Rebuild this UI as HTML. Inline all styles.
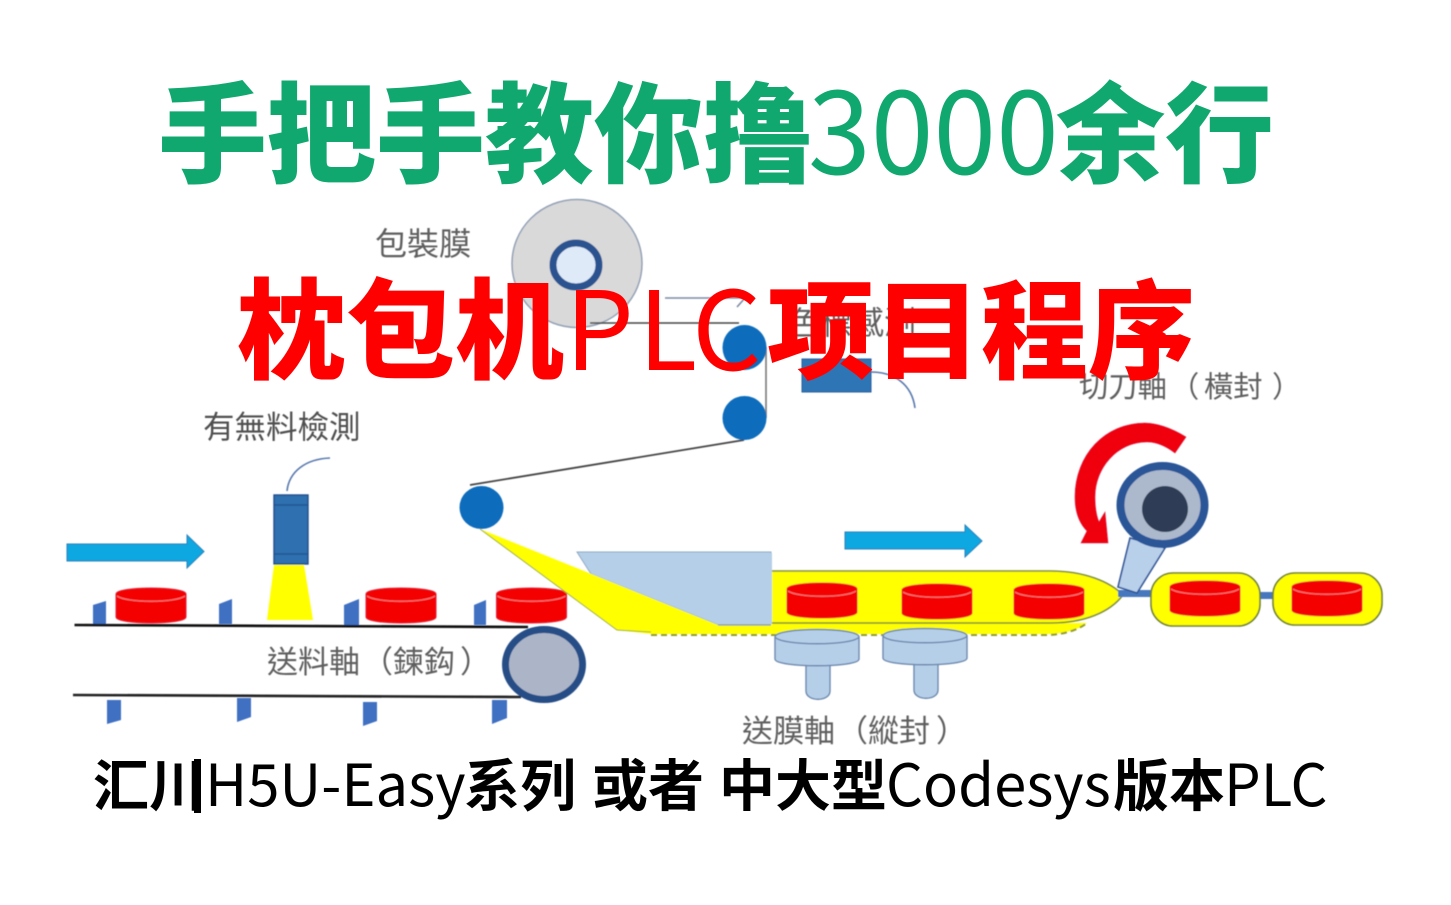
<!DOCTYPE html>
<html>
<head>
<meta charset="utf-8">
<style>
html,body{margin:0;padding:0;background:#fff;width:1451px;height:905px;overflow:hidden}
svg{display:block}
text{font-family:"Liberation Sans","Noto Sans CJK SC",sans-serif}
.cjk{font-family:"Noto Sans CJK SC","Liberation Sans",sans-serif}
.lab{font-family:"Noto Sans CJK TC","Liberation Sans",sans-serif;fill:#5f5f5f;font-weight:400}
.b{font-weight:900}
.m{font-weight:700}
.n{font-weight:400}
</style>
</head>
<body>
<svg width="1451" height="905" viewBox="0 0 1451 905" xmlns="http://www.w3.org/2000/svg">
<defs>
<filter id="soft" x="-2%" y="-2%" width="104%" height="104%"><feGaussianBlur stdDeviation="0.55"/></filter>
<g id="disc">
<path d="M0 6 C0 -2 70 -2 70 6 V29 C70 37 0 37 0 29 Z" fill="#f50000" stroke="#e02030" stroke-width="1"/>
<path d="M1 8 C10 15 60 15 69 8" fill="none" stroke="#f07878" stroke-width="1.2"/>
</g>
<g id="roll">
<path d="M31 30 V61 C31 72 55 72 55 61 V30 Z" fill="#b6cfe9" stroke="#6a87ad" stroke-width="1.4"/>
<path d="M0 7 C0 -3 84 -3 84 7 V29 C84 38 0 38 0 29 Z" fill="#b6cfe9" stroke="#6a87ad" stroke-width="1.4"/>
<path d="M0 7 C6 16 78 16 84 7" fill="none" stroke="#6a87ad" stroke-width="1.4"/>
</g>
</defs>

<g filter="url(#soft)">
<!-- film roll -->
<ellipse cx="577" cy="263.5" rx="65" ry="64" fill="#d9d9d9" stroke="#93a0b5" stroke-width="1.5"/>
<ellipse cx="576" cy="265" rx="23" ry="22" fill="#deeaf7" stroke="#2a5290" stroke-width="7"/>
<path d="M665 298 H745 M733 291 L745 298 L737 307" fill="none" stroke="#7b8aa3" stroke-width="1.6"/>
<path d="M590 323 H739" stroke="#444" stroke-width="1.6" fill="none"/>
<path d="M766 347 V418" stroke="#777" stroke-width="1.6" fill="none"/>
<path d="M744 440 L470 485" stroke="#444" stroke-width="1.8" fill="none"/>
<ellipse cx="744.5" cy="347.5" rx="22" ry="22.5" fill="#0a6cbc"/>
<ellipse cx="744.5" cy="418" rx="22" ry="22" fill="#0a6cbc"/>
<ellipse cx="481.5" cy="507.5" rx="22" ry="21.5" fill="#0a6cbc"/>
<rect x="802" y="359" width="69" height="33" fill="#2e75b6" stroke="#2a5f9e"/>
<path d="M871 372 C895 372 912 385 915 408" fill="none" stroke="#5878ad" stroke-width="1.6"/>

<!-- labels -->
<text class="lab" x="375" y="255" font-size="32">包裝膜</text>
<text class="lab" x="788" y="334" font-size="32">色標感測</text>
<text class="lab" x="203" y="438" font-size="31.5" style="fill:#505050">有無料檢測</text>
<text class="lab" y="673" font-size="31"><tspan x="267">送料軸</tspan><tspan x="362">（</tspan><tspan x="393">鍊鈎</tspan><tspan x="460">）</tspan></text>
<text class="lab" y="742" font-size="31"><tspan x="742">送膜軸</tspan><tspan x="837">（</tspan><tspan x="868">縱封</tspan><tspan x="936">）</tspan></text>
<text class="lab" y="397" font-size="29.3"><tspan x="1079">切刀軸</tspan><tspan x="1170">（</tspan><tspan x="1204">橫封</tspan><tspan x="1272">）</tspan></text>

<!-- left sensor -->
<path d="M287 491 C289 472 305 459 330 458" fill="none" stroke="#5878ad" stroke-width="1.6"/>
<polygon points="274,565 304,565 313,620 267,620" fill="#ffff00"/>
<rect x="274" y="495" width="34" height="69" fill="#2e6fb0" stroke="#234f8c" stroke-width="1.4"/>
<path d="M274 505 H308 M274 554 H308" stroke="#234f8c" stroke-width="1.2"/>

<!-- arrows -->
<polygon points="67,544 187,544 187,535 204,551.5 187,568 187,561 67,561" fill="#0ea7e2" stroke="#2b7fb8" stroke-width="1"/>
<polygon points="845,532 965,532 965,525 982,541 965,557 965,549 845,549" fill="#0ea7e2" stroke="#2b7fb8" stroke-width="1"/>

<!-- hooks -->
<g fill="#3f6fc2">
<polygon points="93,605 106,601 106,624 93,624"/>
<polygon points="219,604 232,599 232,624 219,624"/>
<polygon points="344,605 359,599 359,625 344,625"/>
<polygon points="474,605 486,600 486,625 474,625"/>
<polygon points="107,700 121,700 121,720 107,724"/>
<polygon points="237,698 251,698 251,717 237,722"/>
<polygon points="363,702 377,702 377,721 363,726"/>
<polygon points="492,700 507,700 507,718 492,724"/>
</g>

<!-- discs on belt -->
<use href="#disc" x="116" y="588"/>
<use href="#disc" x="366" y="588"/>
<use href="#disc" x="496.5" y="588"/>

<!-- belt -->
<path d="M74.5 625 L528 627" stroke="#111" stroke-width="2.6" fill="none"/>
<path d="M73 695 L521 697" stroke="#222" stroke-width="2.6" fill="none"/>
<ellipse cx="544" cy="664.5" rx="38.5" ry="35" fill="#acb5c8" stroke="#264d86" stroke-width="7"/>

<!-- film wedge and body -->
<polygon points="577,552 771,552 771,625 718,625 591,574" fill="#b6cfe8" stroke="#8fa9c6" stroke-width="1"/>
<path d="M480 529 L718 625 H771 V623 L1087 623 C1080 630 1060 634 1050 634 L651 634 L617 630 Z" fill="#ffff00"/>
<path d="M480 529 L617 630 L651 632" fill="none" stroke="#a0b040" stroke-width="1"/>
<path d="M651 635 H1050 C1065 634 1078 630 1087 623" fill="none" stroke="#8f9a30" stroke-width="2" stroke-dasharray="6 4"/>
<path d="M771 571 H1050 C1085 571 1110 582 1123 595 C1110 612 1085 623 1050 623 H771 Z" fill="#ffff00" stroke="#7f8f3a" stroke-width="1.6"/>
<path d="M718 625 H771" stroke="#7f93a8" stroke-width="1.2"/>
<rect x="770" y="553" width="2" height="71" fill="#b6cfe8"/>

<use href="#disc" x="787" y="583"/>
<use href="#disc" x="902" y="584"/>
<use href="#disc" x="1014" y="584"/>

<use href="#roll" x="775" y="630"/>
<use href="#roll" x="883" y="629"/>

<!-- connectors -->
<rect x="1118" y="590" width="36" height="7" fill="#4678bd"/>
<rect x="1258" y="592" width="17" height="7" fill="#4678bd"/>
<!-- pillows -->
<rect x="1151" y="573" width="109" height="53" rx="22" fill="#ffff00" stroke="#6f8030" stroke-width="1.6"/>
<rect x="1273" y="573" width="109" height="52" rx="22" fill="#ffff00" stroke="#6f8030" stroke-width="1.6"/>
<use href="#disc" x="1170" y="581"/>
<use href="#disc" x="1292" y="581"/>

<!-- cutter -->
<polygon points="1130,538 1165,548 1137,593 1118,587" fill="#b9d0ea" stroke="#2f5597" stroke-width="1.6"/>
<ellipse cx="1162.5" cy="505" rx="42" ry="39" fill="#acb8cc" stroke="#2a5597" stroke-width="8"/>
<circle cx="1165" cy="509" r="23" fill="#2e3c55"/>
<path d="M1186 437 C1170 427 1155 423 1145 423 C1105 423 1075 455 1075 497 C1075 510 1078 522 1087 531 L1081 543 L1108 543 L1105 512 L1099 522 C1096 515 1095 505 1095 497 C1095 468 1117 442 1147 442 C1158 442 1167 447 1175 453 Z" fill="#f00010" stroke="#d82040" stroke-width="0.6"/>
</g>

<!-- titles -->
<text y="174" font-size="109" fill="#10a86f" class="cjk"><tspan class="b" x="158">手把手教你撸</tspan><tspan class="n" x="808" font-size="113">3000</tspan><tspan class="b" x="1056">余行</tspan></text>
<text y="370" font-size="109" fill="#ff0000" class="cjk"><tspan class="b" x="237">枕包机</tspan><tspan class="n" x="565">P</tspan><tspan class="n" x="638">L</tspan><tspan class="n" x="692">C</tspan><tspan class="b" x="767" font-size="107">项目程序</tspan></text>
<rect x="194" y="759" width="7" height="54" fill="#000"/>
<text y="806" font-size="56" fill="#000" class="cjk"><tspan class="m" x="93">汇川</tspan><tspan class="n" x="205" font-size="58">H5U-Easy</tspan><tspan class="m" x="464">系列</tspan><tspan class="m" x="592">或者</tspan><tspan class="m" x="719">中大型</tspan><tspan class="n" x="886" font-size="58">Codesys</tspan><tspan class="m" x="1113">版本</tspan><tspan class="n" x="1224" font-size="58">PLC</tspan></text>
</svg>
</body>
</html>
